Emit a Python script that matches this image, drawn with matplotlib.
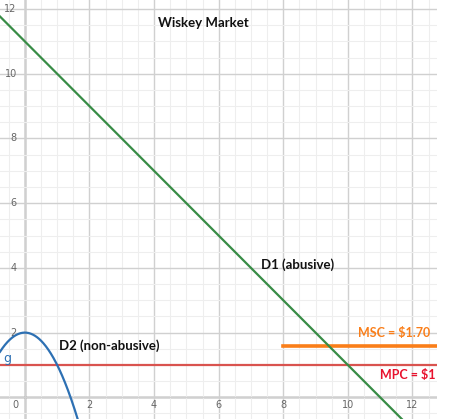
import numpy as np
import matplotlib.pyplot as plt
from matplotlib.ticker import MultipleLocator

# demand curves
d1_intercept = 11.0
d1_slope = -1.0
d2_peak = 2.0
d2_curv = -1.0

mpc = 1.0
msc = 1.6
msc_start = 8.0

x_ticks = [0, 2, 4, 6, 8, 10, 12]
y_ticks = [2, 4, 6, 8, 10, 12]

XMIN, XMAX = -0.77, 12.76

fig = plt.figure(figsize=(4.49, 4.19), dpi=100)
ax = fig.add_axes([0, 0, 437 / 449, 1])
ax.set_xlim(XMIN, XMAX)
ax.set_ylim(-0.67, 12.28)

ax.xaxis.set_major_locator(MultipleLocator(2))
ax.xaxis.set_minor_locator(MultipleLocator(0.5))
ax.yaxis.set_major_locator(MultipleLocator(2))
ax.yaxis.set_minor_locator(MultipleLocator(0.5))
ax.grid(which="major", color="#d0d0d0", lw=1.0, zorder=0)
ax.grid(which="minor", color="#eeeeee", lw=0.8, zorder=0)
ax.tick_params(which="both", length=0, labelleft=False, labelbottom=False)
for s in ax.spines.values():
    s.set_visible(False)
ax.axhline(0, color="#555555", lw=1.0, zorder=1)
ax.axvline(0, color="#555555", lw=1.0, zorder=1)

# tick labels drawn as text like desmos does
for t in x_ticks:
    if t == 0:
        ax.text(-0.3, -0.25, "0", color="#666666", fontsize=7, ha="center", va="center")
    else:
        ax.text(t, -0.25, str(t), color="#666666", fontsize=7, ha="center", va="center")
for t in y_ticks:
    ax.text(-0.25, t, str(t), color="#666666", fontsize=7, ha="right", va="center")

x = np.linspace(XMIN, XMAX, 400)
ax.plot(x, d1_intercept + d1_slope * x, color="#388c46", lw=1.6, zorder=3)
x2 = np.linspace(XMIN, 1.8, 200)
ax.plot(x2, d2_peak + d2_curv * x2 ** 2, color="#2d70b3", lw=1.6, zorder=3)
ax.axhline(mpc, color="#d9534f", lw=1.6, zorder=2)
ax.plot([msc_start, XMAX], [msc, msc], color="#fa7e19", lw=2.6, zorder=2)

ax.text(-0.55, 1.0, "g", color="#2d70b3", fontsize=9, ha="center", va="bottom")

font = "Lato"
ax.text(5.53, 11.56, "Wiskey Market", fontsize=9.5, fontweight="bold", family=font,
        ha="center", va="center", color="#111111")
ax.text(8.45, 4.1, "D1 (abusive)", fontsize=9.5, fontweight="bold", family=font,
        ha="center", va="center", color="#111111")
ax.text(2.62, 1.6, "D2 (non-abusive)", fontsize=9.5, fontweight="bold", family=font,
        ha="center", va="center", color="#111111")
ax.text(11.44, 2.0, "MSC = $1.70", fontsize=9, fontweight="bold", family=font,
        ha="center", va="center", color="#fa7e19")
ax.text(11.86, 0.7, "MPC = $1", fontsize=9, fontweight="bold", family=font,
        ha="center", va="center", color="#e8112d")

fig.savefig("out.png", dpi=100)
